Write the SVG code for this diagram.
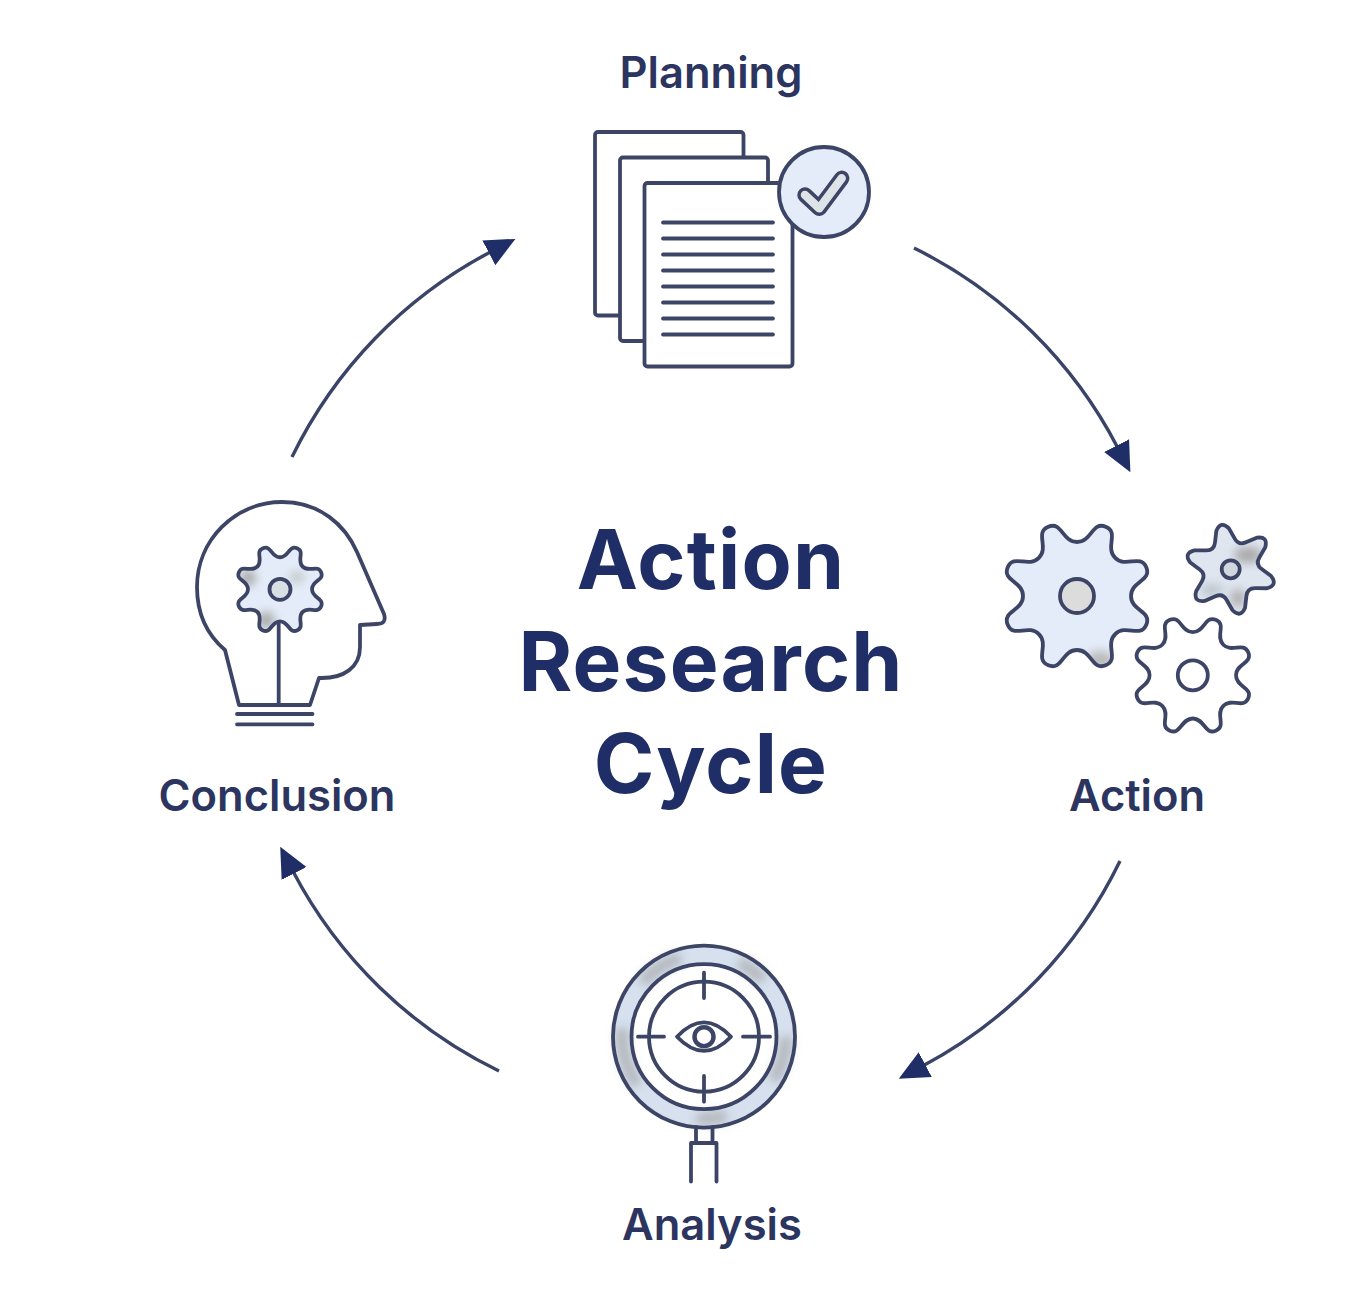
<svg xmlns="http://www.w3.org/2000/svg" xmlns:xlink="http://www.w3.org/1999/xlink" width="1347" height="1298" viewBox="0 0 1347 1298">
<style>
.ln{fill:none;stroke:#3e4566;stroke-width:3.800;stroke-linecap:round;stroke-linejoin:round}
.pg{fill:#fff;stroke:#3e4566;stroke-width:3.800;stroke-linejoin:round}
.lt{fill:#e3ecf8;stroke:#3e4566;stroke-width:3.800;stroke-linejoin:round}
.wh{fill:#fff;stroke:#3e4566;stroke-width:3.800;stroke-linejoin:round}
.gr{fill:#dcdcdc;stroke:#3e4566;stroke-width:3.800}
.lab{font-family:"Inter","Liberation Sans",sans-serif;font-weight:600;font-size:43.500px;fill:#2b3560;text-anchor:middle}
.ttl{font-family:"Inter","Liberation Sans",sans-serif;font-weight:700;font-size:82px;letter-spacing:1.200px;fill:#1f2e66;text-anchor:middle}
.arc{fill:none;stroke:#3a4468;stroke-width:3.400;marker-end:url(#head)}
</style>
<defs>
<marker id="head" markerUnits="userSpaceOnUse" markerWidth="34" markerHeight="34" refX="3" refY="17" orient="auto" viewBox="0 0 34 34"><path d="M0,3 L30,17 L0,31 Z" fill="#1f2e66"/></marker>
<filter id="soft" x="-20%" y="-20%" width="140%" height="140%"><feGaussianBlur stdDeviation="0.7"/></filter>
<filter id="blot" x="-60%" y="-60%" width="220%" height="220%"><feGaussianBlur stdDeviation="5"/></filter>
<path id="g8" d="M0,-72 C20,-72 19.790,-100.050 38.270,-92.390 C56.750,-84.730 36.770,-65.050 50.910,-50.910 C65.050,-36.770 84.730,-56.750 92.390,-38.270 C100.050,-19.790 72,-20 72,0 C72,20 100.050,19.790 92.390,38.270 C84.730,56.750 65.050,36.770 50.910,50.910 C36.770,65.050 56.750,84.730 38.270,92.390 C19.790,100.050 20,72 0,72 C-20,72 -19.790,100.050 -38.270,92.390 C-56.750,84.730 -36.770,65.050 -50.910,50.910 C-65.050,36.770 -84.730,56.750 -92.390,38.270 C-100.050,19.790 -72,20 -72,0 C-72,-20 -100.050,-19.790 -92.390,-38.270 C-84.730,-56.750 -65.050,-36.770 -50.910,-50.910 C-36.770,-65.050 -56.750,-84.730 -38.270,-92.390 C-19.790,-100.050 -20,-72 0,-72 Z"/>
<path id="g6" d="M-14.360,-38.400 Q-9.970,-49 -1.790,-40.960 L4.050,-30.730 Q7.930,-23.710 15.260,-26.980 L26.080,-31.640 Q37.450,-33.130 34.580,-22.030 L28.640,-11.860 Q24.500,-4.980 31,-.27 L40.440,6.770 Q47.420,15.870 36.370,18.930 L24.600,18.870 Q16.570,18.730 15.730,26.710 L14.360,38.400 Q9.970,49 1.790,40.960 L-4.050,30.730 Q-7.930,23.710 -15.260,26.980 L-26.080,31.640 Q-37.450,33.130 -34.580,22.030 L-28.640,11.860 Q-24.500,4.980 -31,.27 L-40.440,-6.770 Q-47.420,-15.870 -36.370,-18.930 L-24.600,-18.870 Q-16.570,-18.730 -15.730,-26.710 Z"/>
<clipPath id="clipStar"><use xlink:href="#g6" transform="translate(1230.700,569.300)"/></clipPath>
<clipPath id="clipBig"><use xlink:href="#g8" transform="translate(1077,596) scale(.75)"/></clipPath>
<clipPath id="clipHead"><use xlink:href="#g8" transform="translate(280,589.300) scale(.445)"/></clipPath>
</defs>
<rect width="1347" height="1298" fill="#fff"/>

<g id="connectors">
<path class="arc" d="M914,248 A458,458 0 0 1 1118,448.300"/>
<path class="arc" d="M1120,861 A458,458 0 0 1 922.600,1066"/>
<path class="arc" d="M499,1071 A458,458 0 0 1 292.700,870.800"/>
<path class="arc" d="M292,457 A458,458 0 0 1 491.500,251.400"/>
</g>

<g id="title"><text class="ttl" x="711" y="589">Action</text><text class="ttl" x="711" y="691">Research</text><text class="ttl" x="711" y="793">Cycle</text></g>

<g id="node-planning">
<text class="lab" x="711" y="88">Planning</text>
<g filter="url(#soft)">
<rect class="pg" x="595" y="132" width="148.500" height="183.500" rx="3"/>
<rect class="pg" x="620" y="157.500" width="148" height="183.500" rx="3"/>
<rect class="pg" x="644.500" y="183" width="148" height="183.500" rx="3"/>
<path class="ln" d="M663,222.500H773M663,238.500H773M663,254.500H773M663,270.500H773M663,286.500H773M663,302.500H773M663,318.500H773M663,334.500H773"/>
<circle class="lt" cx="824" cy="192" r="45"/>
<path d="M805,195 L819.300,208.300 L841.700,178.300" fill="none" stroke="#3e4566" stroke-width="15.500" stroke-linecap="round" stroke-linejoin="round"/>
<path d="M805,195 L819.300,208.300 L841.700,178.300" fill="none" stroke="#dde3e6" stroke-width="8.500" stroke-linecap="round" stroke-linejoin="round"/>
</g>
</g>

<g id="node-action">
<text class="lab" x="1137" y="811">Action</text>
<g filter="url(#soft)">
<use xlink:href="#g8" transform="translate(1077,596) scale(.75)" style="fill:#e3ecf8"/>
<g clip-path="url(#clipBig)"><ellipse cx="1100" cy="660" rx="14" ry="9" fill="#b9b9b9" filter="url(#blot)"/></g>
<use xlink:href="#g8" transform="translate(1077,596) scale(.75)" style="fill:none;stroke:#3e4566;stroke-width:5.100"/>
<circle class="gr" cx="1077" cy="596" r="17"/>
<use xlink:href="#g8" transform="translate(1192.800,675.300) scale(.6)" style="fill:#fff;stroke:#3e4566;stroke-width:6.300;stroke-linejoin:round"/>
<circle class="wh" cx="1192.800" cy="675.300" r="15"/>
<use xlink:href="#g6" transform="translate(1230.700,569.300)" style="fill:#dfe6f0"/>
<g clip-path="url(#clipStar)"><ellipse cx="1248" cy="555" rx="14" ry="8" fill="#a9a9a9" filter="url(#blot)"/><ellipse cx="1238" cy="598" rx="8" ry="9" fill="#b0b0b0" filter="url(#blot)"/><ellipse cx="1212" cy="590" rx="12" ry="6" fill="#bcc4cc" filter="url(#blot)"/></g>
<use xlink:href="#g6" transform="translate(1230.700,569.300)" style="fill:none;stroke:#3e4566;stroke-width:3.800;stroke-linejoin:round"/>
<circle cx="1230.700" cy="569.300" r="9" fill="#cfd6de" stroke="#3e4566" stroke-width="3.800"/>
</g>
</g>

<g id="node-analysis">
<text class="lab" x="712" y="1240">Analysis</text>
<g filter="url(#soft)">
<circle cx="704" cy="1036.700" r="82" fill="none" stroke="#d6e0ee" stroke-width="18"/>
<circle cx="704" cy="1036.700" r="82" fill="none" stroke="#b4b7bc" stroke-width="12" stroke-dasharray="46 60 30 70 60 50" filter="url(#blot)"/>
<circle class="ln" cx="704" cy="1036.700" r="91"/>
<circle class="ln" cx="704" cy="1036.700" r="72.500"/>
<circle class="ln" cx="704" cy="1036.700" r="55"/>
<path class="ln" d="M704,972.700V998M704,1076V1101.700M638,1036.700H664M743,1036.700H770"/>
<path class="ln" d="M677,1036.700 Q704,1008 731,1036.700 Q704,1065 677,1036.700 Z"/>
<circle cx="704" cy="1036.700" r="9.500" fill="none" stroke="#3e4566" stroke-width="4.500"/>
<path class="ln" d="M696,1127V1143M712.500,1127V1143M691,1181.500V1143H716.500V1181.500"/>
</g>
</g>

<g id="node-conclusion">
<text class="lab" x="277" y="811">Conclusion</text>
<g filter="url(#soft)">
<path class="ln" d="M239,705 L225,650 C205,633 197,610 197,587 C197,540 235,502 282,502 C320,502 345,525 357,552 L384,614 Q387,624 377,624 L360,625 L360,647 C360,668 343,678 322,678 L319,678 L310,705 Z"/>
<path class="ln" d="M237,714H312.500M237,724.300H312.500M278.700,623V705"/>
<use xlink:href="#g8" transform="translate(280,589.300) scale(.445)" style="fill:#e3ecf8"/>
<g clip-path="url(#clipHead)"><ellipse cx="248" cy="578" rx="8" ry="8" fill="#a9a9a9" filter="url(#blot)"/><ellipse cx="266" cy="620" rx="9" ry="8" fill="#a9a9a9" filter="url(#blot)"/><ellipse cx="297" cy="577" rx="8" ry="6" fill="#c3c8c8" filter="url(#blot)"/></g>
<use xlink:href="#g8" transform="translate(280,589.300) scale(.445)" style="fill:none;stroke:#3e4566;stroke-width:8.500;stroke-linejoin:round"/>
<circle cx="280" cy="589.300" r="10.500" fill="#d8e0e4" stroke="#3e4566" stroke-width="3.800"/>
</g>
</g>
</svg>
